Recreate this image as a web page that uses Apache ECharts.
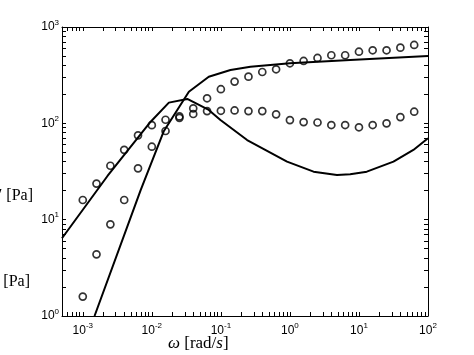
<!DOCTYPE html>
<html>
<head>
<meta charset="utf-8">
<script src="https://cdn.jsdelivr.net/npm/echarts@6/dist/echarts.min.js"></script>
<style>html,body{margin:0;padding:0;background:#fff}#c{width:474px;height:355px}</style>
</head>
<body>
<div id="c"></div>
<script>
// Measured data (circles)
const freq = [0.001, 0.00158, 0.00251, 0.00398, 0.00631, 0.01, 0.0158, 0.0251, 0.0398, 0.0631,
  0.1, 0.158, 0.251, 0.398, 0.631, 1, 1.58, 2.51, 3.98, 6.31, 10, 15.8, 25.1, 39.8, 63.1];
const gStorage = [1.59, 4.37, 8.95, 16.0, 34.1, 57.2, 83.3, 114, 143, 182,
  226, 271, 305, 341, 364, 420, 444, 477, 509, 509, 554, 573, 573, 610, 651];
const gLoss = [16.0, 23.7, 36.3, 53.1, 75.1, 95.7, 109, 118, 125, 134,
  135, 136, 134, 134, 124, 108, 103, 102, 96, 96, 91, 96, 100, 116, 132];
// Model curves (lines)
const modelFreqStorage = [0.00148, 0.00689, 0.01496, 0.0344, 0.0668, 0.1377, 0.268, 1.0, 7.46, 100];
const modelStorage = [1.0, 20.3, 83.3, 213, 305, 358, 387, 420, 455, 500];
const modelFreqLoss = [0.0005, 0.00228, 0.00962, 0.01766, 0.0326, 0.0668, 0.0986, 0.24, 0.908, 2.2,
  4.8, 7.46, 13.0, 31.6, 61.4, 100];
const modelLoss = [6.41, 28.4, 104, 164, 179, 137.6, 108.3, 67.1, 40.0, 31.5,
  29.1, 29.6, 31.5, 40.0, 52.9, 69.9];
// Axis ticks
const xLabelTicks = [0.001, 0.01, 0.1, 1, 10, 100];
const yLabelTicks = [1, 10, 100, 1000];
const xMin = 0.0005, xMax = 100, yMin = 1, yMax = 1000;

function minorTicks(lo, hi) {
  const out = [];
  for (let e = -4; e <= 3; e++) {
    for (let m = 1; m <= 9; m++) {
      const v = +(m * Math.pow(10, e)).toPrecision(6);
      if (v >= lo * 0.9999 && v <= hi * 1.0001) out.push(v);
    }
  }
  return out;
}
const xTicks = minorTicks(xMin, xMax);
const yTicks = minorTicks(yMin, yMax);

const pairs = (xs, ys) => xs.map((x, i) => [x, ys[i]]);
const fmt = v => '{b|10}{s|' + Math.round(Math.log10(v)) + '}';
const rich = {
  b: {fontSize: 12, fontFamily: 'Liberation Sans, Arial, sans-serif', color: '#000'},
  s: {fontSize: 8, fontFamily: 'Liberation Sans, Arial, sans-serif', color: '#000', padding: [0, 0, 9, 0]}
};
const tickStyle = {show: true, inside: true, length: 4, lineStyle: {color: '#000', width: 1}};
const lineStyleAxis = {show: true, onZero: false, lineStyle: {color: '#000', width: 1}};

const chart = echarts.init(document.getElementById('c'), null, {renderer: 'canvas'});
chart.setOption({
  animation: false,
  backgroundColor: '#fff',
  grid: {left: 62, right: 46, top: 27, bottom: 39, containLabel: false},
  xAxis: [
    {type: 'log', min: xMin, max: xMax, position: 'bottom', axisLine: lineStyleAxis,
     axisTick: Object.assign({customValues: xTicks}, tickStyle),
     axisLabel: {customValues: xLabelTicks, formatter: fmt, rich: rich, margin: 6},
     splitLine: {show: false}},
    {type: 'log', min: xMin, max: xMax, position: 'top', axisLine: lineStyleAxis,
     axisTick: Object.assign({customValues: xTicks}, tickStyle),
     axisLabel: {show: false}, splitLine: {show: false}}
  ],
  yAxis: [
    {type: 'log', min: yMin, max: yMax, position: 'left', axisLine: lineStyleAxis,
     axisTick: Object.assign({customValues: yTicks}, tickStyle),
     axisLabel: {customValues: yLabelTicks, formatter: fmt, rich: rich, margin: 3},
     splitLine: {show: false}},
    {type: 'log', min: yMin, max: yMax, position: 'right', axisLine: lineStyleAxis,
     axisTick: Object.assign({customValues: yTicks}, tickStyle),
     axisLabel: {show: false}, splitLine: {show: false}}
  ],
  series: [
    {type: 'line', name: "G' model", data: pairs(modelFreqStorage, modelStorage), showSymbol: false,
     lineStyle: {color: '#000', width: 2}, clip: true, z: 2},
    {type: 'line', name: "G'' model", data: pairs(modelFreqLoss, modelLoss), showSymbol: false,
     lineStyle: {color: '#000', width: 2}, clip: true, z: 2},
    {type: 'scatter', name: "G' data", data: pairs(freq, gStorage), symbol: 'circle', symbolSize: 7,
     itemStyle: {color: 'rgba(0,0,0,0)', borderColor: '#000', borderWidth: 1.7}, z: 3},
    {type: 'scatter', name: "G'' data", data: pairs(freq, gLoss), symbol: 'circle', symbolSize: 7,
     itemStyle: {color: 'rgba(0,0,0,0)', borderColor: '#000', borderWidth: 1.7}, z: 3}
  ],
  graphic: [
    {type: 'text', left: 168, top: 335, style: {
      text: '{i|ω} [rad/{i|s}]',
      rich: {i: {fontStyle: 'italic', fontFamily: 'Liberation Serif, serif', fontSize: 17, fill: '#000'}},
      font: '17px "Liberation Serif", serif', fill: '#000'}},
    {type: 'text', right: 441, top: 188, style: {
      text: 'G′ [Pa]', font: '16px "Liberation Serif", serif', fill: '#000'}},
    {type: 'text', right: 444, top: 274, style: {
      text: 'G″ [Pa]', font: '16px "Liberation Serif", serif', fill: '#000'}}
  ]
});
</script>
</body>
</html>
